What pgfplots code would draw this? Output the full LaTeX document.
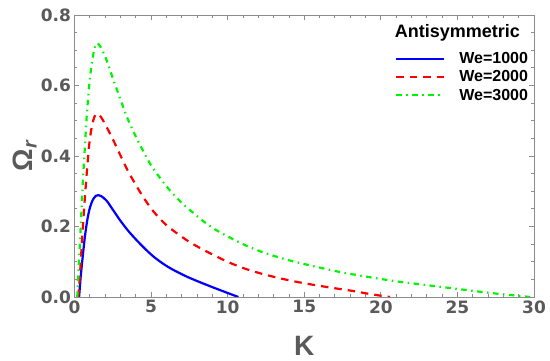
\documentclass[border=0pt]{standalone}
\usepackage{pgfplots}
\pgfplotsset{compat=1.18}
\usepackage{fontspec}
\setmainfont{Liberation Sans}
\newfontfamily\dejavu{DejaVu Sans}
\definecolor{framegray}{RGB}{140,140,140}
\definecolor{labelgray}{RGB}{90,90,90}
\definecolor{cblue}{RGB}{0,0,255}
\definecolor{cred}{RGB}{255,0,0}
\definecolor{cgreen}{RGB}{0,245,0}
\begin{document}
\begin{tikzpicture}
\useasboundingbox (-74.5pt,-64pt) rectangle (475.5pt,297pt);
\begin{axis}[
  scale only axis, width=459.5pt, height=282pt,
  at={(0pt,0pt)}, anchor=south west,
  xmin=0, xmax=30, ymin=0, ymax=0.8,
  xtick={0,5,10,15,20,25,30}, ytick={0,0.2,0.4,0.6,0.8},
  minor x tick num=4, minor y tick num=3,
  tick align=inside,
  major tick length=4.5pt, minor tick length=2.5pt,
  axis line style={color=framegray, line width=0.9pt},
  every tick/.append style={color=framegray, line width=0.8pt},
  /pgf/number format/assume math mode=true,
  y tick label style={/pgf/number format/.cd, fixed, fixed zerofill, precision=1},
  tick label style={font=\dejavu\bfseries\fontsize{17}{17}\selectfont, text=labelgray},
  xlabel={K}, ylabel={Ω\textsubscript{\itshape r}},
  every axis x label/.style={at={(axis description cs:0.5,-0.174)}, anchor=center},
  every axis y label/.style={at={(axis description cs:-0.108,0.5)}, rotate=90, anchor=center},
  label style={font=\bfseries\fontsize{28}{28}\selectfont, text=labelgray},
  legend style={draw=none, fill=none, at={(axis cs:20.92,0.694)}, anchor=north west,
    inner sep=0pt, row sep=5.5pt, column sep=14pt,
    font=\bfseries\fontsize{16}{16}\selectfont,
    nodes={inner sep=0pt}},
  legend cell align=left,
  legend image code/.code={\draw[#1] (0pt,0pt) -- (48pt,0pt);},
]
\addplot[cblue, line width=2.2pt, smooth] coordinates {
(0.3,0) (0.4,0.055) (0.47,0.086) (0.55,0.12) (0.69,0.175) (0.85,0.222)
(1.01,0.254) (1.2,0.276) (1.4,0.287) (1.55,0.289) (1.75,0.286) (2.1,0.273)
(2.5,0.248) (2.97,0.218) (3.5,0.188) (4.06,0.161) (4.6,0.137) (5.15,0.115)
(5.7,0.097) (6.24,0.082) (6.8,0.069) (7.32,0.058) (7.8,0.049) (8.19,0.042)
(9.0,0.028) (9.9,0.013) (10.7,0)};
\addlegendentry{We=1000}
\addplot[cred, line width=2.2pt, dash pattern=on 7.5pt off 6pt, smooth] coordinates {
(0.24,0) (0.35,0.06) (0.45,0.13) (0.55,0.2) (0.65,0.265) (0.77,0.335)
(0.9,0.405) (1.01,0.45) (1.15,0.488) (1.3,0.511) (1.45,0.52) (1.65,0.515)
(1.85,0.502) (2.1,0.482) (2.53,0.445) (2.93,0.408) (3.51,0.356) (4.39,0.29)
(5.15,0.243) (6.02,0.203) (7.1,0.168) (7.66,0.152) (8.63,0.129) (9.94,0.101)
(11.02,0.082) (12.22,0.066) (13.42,0.053) (14.5,0.043) (15.81,0.033)
(17.12,0.024) (18.2,0.017) (19.08,0.010) (19.95,0.004) (20.6,0)};
\addlegendentry{We=2000}
\addplot[cgreen, line width=2.2pt, dash pattern=on 5.5pt off 4.5pt on 1.5pt off 4.5pt, smooth] coordinates {
(0.18,0) (0.27,0.08) (0.35,0.15) (0.45,0.24) (0.55,0.33) (0.69,0.435)
(0.8,0.515) (0.97,0.605) (1.12,0.66) (1.3,0.703) (1.45,0.72) (1.65,0.713)
(1.85,0.697) (2.1,0.671) (2.53,0.617) (2.97,0.564) (3.41,0.512) (3.95,0.46)
(4.39,0.422) (4.71,0.396) (5.04,0.371) (6.02,0.313) (7.0,0.267) (7.66,0.242)
(8.41,0.215) (9.17,0.192) (10.26,0.166) (11.35,0.143) (12.55,0.123)
(13.85,0.106) (15.05,0.093) (16.24,0.081) (17.55,0.069) (18.2,0.064)
(20.16,0.05) (21.25,0.043) (22.56,0.036) (23.86,0.029) (25.17,0.022)
(26.47,0.015) (27.78,0.0085) (29.08,0.003) (29.74,0)};
\addlegendentry{We=3000}
\node[anchor=base, font=\bfseries\fontsize{18}{18}\selectfont] at (axis cs:25.0,0.735) {Antisymmetric};
\end{axis}
\end{tikzpicture}
\end{document}
